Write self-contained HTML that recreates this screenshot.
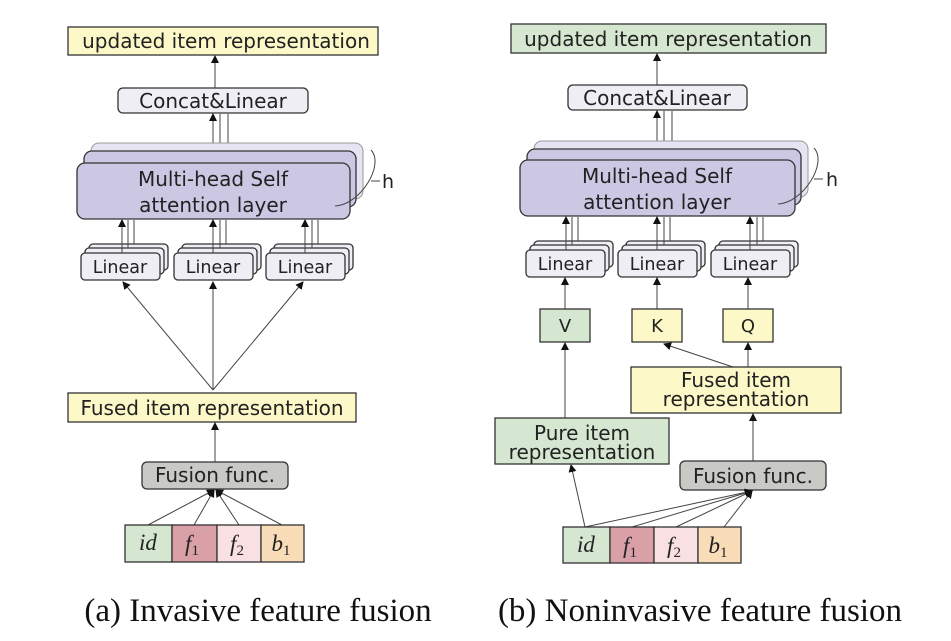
<!DOCTYPE html>
<html><head><meta charset="utf-8"><style>
html,body{margin:0;padding:0;background:#fff}
svg{display:block}
text{font-family:"DejaVu Sans","Liberation Sans",sans-serif;fill:#222}
.b{stroke:#333;stroke-width:1.3}
.l{stroke:#444;stroke-width:1;fill:none}
.cap{font-family:"Liberation Serif",serif;font-size:33px;fill:#111}
.it{font-family:"Liberation Serif",serif;font-style:italic;font-size:23px}
.s{font-size:15px;font-style:normal}
</style></head><body>
<svg width="951" height="641" viewBox="0 0 951 641">
<defs><marker id="a" markerWidth="8" markerHeight="8" refX="7" refY="4" orient="auto" markerUnits="userSpaceOnUse"><path d="M0,0 L8,4 L0,8 z" fill="#111"/></marker></defs>

<!-- LEFT -->
<rect x="68" y="27" width="310" height="28" fill="#fdf8c8" class="b"/>
<text x="226" y="48" font-size="20" text-anchor="middle">updated item representation</text>
<line x1="215" y1="88" x2="215" y2="56" class="l" marker-end="url(#a)"/>
<rect x="118" y="88" width="190" height="25" rx="5" fill="#eeeef4" class="b"/>
<text x="213" y="108" font-size="20" text-anchor="middle">Concat&amp;Linear</text>
<line x1="213" y1="162" x2="213" y2="114" class="l" marker-end="url(#a)"/>
<line x1="220" y1="150" x2="220" y2="114" class="l"/>
<line x1="228" y1="143" x2="228" y2="114" class="l"/>
<rect x="91" y="143" width="272" height="56" rx="8" fill="#e6e4f2" stroke="#999" stroke-width="1"/>
<rect x="84" y="151" width="272" height="56" rx="8" fill="#ccc8e4" class="b"/>
<rect x="77" y="163" width="273" height="56" rx="8" fill="#ccc8e4" class="b"/>
<text x="213" y="186" font-size="20" text-anchor="middle">Multi-head Self</text>
<text x="213" y="212" font-size="20" text-anchor="middle">attention layer</text>
<path d="M371,150 C385,165 360,205 335,206" class="l" stroke="#111" stroke-width="1.5"/>
<line x1="371" y1="181" x2="380" y2="181" class="l"/>
<text x="382" y="188" font-size="19">h</text>
<g>
<rect x="89" y="244" width="79" height="26" rx="4" fill="#eeeef4" class="b"/>
<rect x="85" y="248" width="79" height="26" rx="4" fill="#eeeef4" class="b"/>
<rect x="81" y="253" width="79" height="27" rx="4" fill="#eeeef4" class="b"/>
<text x="120" y="273" font-size="17.5" text-anchor="middle">Linear</text>
<line x1="122" y1="253" x2="122" y2="220" class="l" marker-end="url(#a)"/>
<line x1="128" y1="248" x2="128" y2="220" class="l"/><line x1="134" y1="244" x2="134" y2="220" class="l"/>
</g>
<g>
<rect x="182" y="244" width="79" height="26" rx="4" fill="#eeeef4" class="b"/>
<rect x="178" y="248" width="79" height="26" rx="4" fill="#eeeef4" class="b"/>
<rect x="174" y="253" width="79" height="27" rx="4" fill="#eeeef4" class="b"/>
<text x="213" y="273" font-size="17.5" text-anchor="middle">Linear</text>
<line x1="213" y1="253" x2="213" y2="220" class="l" marker-end="url(#a)"/>
<line x1="220" y1="248" x2="220" y2="220" class="l"/><line x1="226" y1="244" x2="226" y2="220" class="l"/>
</g>
<g>
<rect x="274" y="244" width="79" height="26" rx="4" fill="#eeeef4" class="b"/>
<rect x="270" y="248" width="79" height="26" rx="4" fill="#eeeef4" class="b"/>
<rect x="266" y="253" width="79" height="27" rx="4" fill="#eeeef4" class="b"/>
<text x="305" y="273" font-size="17.5" text-anchor="middle">Linear</text>
<line x1="305" y1="253" x2="305" y2="220" class="l" marker-end="url(#a)"/>
<line x1="312" y1="248" x2="312" y2="220" class="l"/><line x1="318" y1="244" x2="318" y2="220" class="l"/>
</g>
<line x1="213" y1="390" x2="123" y2="282" class="l" marker-end="url(#a)"/>
<line x1="213" y1="390" x2="213" y2="282" class="l" marker-end="url(#a)"/>
<line x1="213" y1="390" x2="303" y2="282" class="l" marker-end="url(#a)"/>
<rect x="68" y="393" width="288" height="29" fill="#fdf8c8" class="b"/>
<text x="212" y="415" font-size="20" text-anchor="middle">Fused item representation</text>
<line x1="215" y1="462" x2="215" y2="423" class="l" marker-end="url(#a)"/>
<rect x="142" y="462" width="146" height="27" rx="5" fill="#c9c9c5" class="b"/>
<text x="215" y="482" font-size="20" text-anchor="middle">Fusion func.</text>
<line x1="148" y1="525" x2="214" y2="490" class="l" marker-end="url(#a)"/>
<line x1="194" y1="525" x2="214" y2="490" class="l" marker-end="url(#a)"/>
<line x1="239" y1="525" x2="216" y2="490" class="l" marker-end="url(#a)"/>
<line x1="282" y1="525" x2="216" y2="490" class="l" marker-end="url(#a)"/>
<rect x="125" y="525" width="47" height="37" fill="#d5e7d0" class="b"/>
<rect x="172" y="525" width="45" height="37" fill="#d9a0a8" class="b"/>
<rect x="217" y="525" width="44" height="37" fill="#f9e0e2" class="b"/>
<rect x="261" y="525" width="43" height="37" fill="#f9dcb8" class="b"/>
<text x="148" y="550" class="it" text-anchor="middle">id</text>
<text x="192" y="551" class="it" text-anchor="middle">f<tspan class="s" dy="4">1</tspan></text>
<text x="237" y="551" class="it" text-anchor="middle">f<tspan class="s" dy="4">2</tspan></text>
<text x="281" y="551" class="it" text-anchor="middle">b<tspan class="s" dy="4">1</tspan></text>

<!-- RIGHT -->
<rect x="511" y="24" width="315" height="29" fill="#d5e7d0" class="b"/>
<text x="668" y="46" font-size="20" text-anchor="middle">updated item representation</text>
<line x1="657" y1="85" x2="657" y2="54" class="l" marker-end="url(#a)"/>
<rect x="568" y="85" width="179" height="25" rx="5" fill="#eeeef4" class="b"/>
<text x="657" y="105" font-size="20" text-anchor="middle">Concat&amp;Linear</text>
<line x1="657" y1="160" x2="657" y2="111" class="l" marker-end="url(#a)"/>
<line x1="664" y1="148" x2="664" y2="111" class="l"/>
<line x1="672" y1="141" x2="672" y2="111" class="l"/>
<rect x="534" y="141" width="274" height="56" rx="8" fill="#e6e4f2" stroke="#999" stroke-width="1"/>
<rect x="527" y="149" width="274" height="56" rx="8" fill="#ccc8e4" class="b"/>
<rect x="520" y="160" width="275" height="56" rx="8" fill="#ccc8e4" class="b"/>
<text x="657" y="183" font-size="20" text-anchor="middle">Multi-head Self</text>
<text x="657" y="209" font-size="20" text-anchor="middle">attention layer</text>
<path d="M814,148 C828,163 803,203 778,204" class="l" stroke="#111" stroke-width="1.5"/>
<line x1="814" y1="179" x2="823" y2="179" class="l"/>
<text x="826" y="186" font-size="19">h</text>
<g>
<rect x="534" y="241" width="79" height="26" rx="4" fill="#eeeef4" class="b"/>
<rect x="530" y="245" width="79" height="26" rx="4" fill="#eeeef4" class="b"/>
<rect x="526" y="250" width="79" height="27" rx="4" fill="#eeeef4" class="b"/>
<text x="565" y="270" font-size="17.5" text-anchor="middle">Linear</text>
<line x1="566" y1="250" x2="566" y2="217" class="l" marker-end="url(#a)"/>
<line x1="572" y1="245" x2="572" y2="217" class="l"/><line x1="578" y1="241" x2="578" y2="217" class="l"/>
</g>
<g>
<rect x="626" y="241" width="79" height="26" rx="4" fill="#eeeef4" class="b"/>
<rect x="622" y="245" width="79" height="26" rx="4" fill="#eeeef4" class="b"/>
<rect x="618" y="250" width="79" height="27" rx="4" fill="#eeeef4" class="b"/>
<text x="657" y="270" font-size="17.5" text-anchor="middle">Linear</text>
<line x1="657" y1="250" x2="657" y2="217" class="l" marker-end="url(#a)"/>
<line x1="664" y1="245" x2="664" y2="217" class="l"/><line x1="670" y1="241" x2="670" y2="217" class="l"/>
</g>
<g>
<rect x="719" y="241" width="79" height="26" rx="4" fill="#eeeef4" class="b"/>
<rect x="715" y="245" width="79" height="26" rx="4" fill="#eeeef4" class="b"/>
<rect x="711" y="250" width="79" height="27" rx="4" fill="#eeeef4" class="b"/>
<text x="750" y="270" font-size="17.5" text-anchor="middle">Linear</text>
<line x1="750" y1="250" x2="750" y2="217" class="l" marker-end="url(#a)"/>
<line x1="757" y1="245" x2="757" y2="217" class="l"/><line x1="763" y1="241" x2="763" y2="217" class="l"/>
</g>
<line x1="565" y1="309" x2="565" y2="278" class="l" marker-end="url(#a)"/>
<line x1="657" y1="309" x2="657" y2="278" class="l" marker-end="url(#a)"/>
<line x1="748" y1="309" x2="748" y2="278" class="l" marker-end="url(#a)"/>
<rect x="540" y="309" width="50" height="33" fill="#d5e7d0" class="b"/>
<text x="565" y="332" font-size="18" text-anchor="middle">V</text>
<rect x="632" y="309" width="50" height="33" fill="#fdf8c8" class="b"/>
<text x="657" y="332" font-size="18" text-anchor="middle">K</text>
<rect x="723" y="309" width="50" height="33" fill="#fdf8c8" class="b"/>
<text x="748" y="332" font-size="18" text-anchor="middle">Q</text>
<line x1="565" y1="418" x2="565" y2="343" class="l" marker-end="url(#a)"/>
<line x1="733" y1="367" x2="664" y2="344" class="l" marker-end="url(#a)"/>
<line x1="748" y1="367" x2="748" y2="343" class="l" marker-end="url(#a)"/>
<rect x="631" y="367" width="210" height="46" fill="#fdf8c8" class="b"/>
<text x="736" y="387" font-size="20" text-anchor="middle">Fused item</text>
<text x="736" y="406" font-size="20" text-anchor="middle">representation</text>
<rect x="495" y="418" width="174" height="46" fill="#d5e7d0" class="b"/>
<text x="582" y="440" font-size="20" text-anchor="middle">Pure item</text>
<text x="582" y="459" font-size="20" text-anchor="middle">representation</text>
<line x1="753" y1="461" x2="753" y2="414" class="l" marker-end="url(#a)"/>
<rect x="680" y="461" width="146" height="29" rx="5" fill="#c9c9c5" class="b"/>
<text x="753" y="483" font-size="20" text-anchor="middle">Fusion func.</text>
<line x1="585" y1="527" x2="571" y2="465" class="l" marker-end="url(#a)"/>
<line x1="585" y1="527" x2="752" y2="491" class="l" marker-end="url(#a)"/>
<line x1="632" y1="527" x2="752" y2="491" class="l" marker-end="url(#a)"/>
<line x1="676" y1="527" x2="752" y2="491" class="l" marker-end="url(#a)"/>
<line x1="724" y1="527" x2="752" y2="491" class="l" marker-end="url(#a)"/>
<rect x="563" y="527" width="47" height="36" fill="#d5e7d0" class="b"/>
<rect x="610" y="527" width="44" height="36" fill="#d9a0a8" class="b"/>
<rect x="654" y="527" width="44" height="36" fill="#f9e0e2" class="b"/>
<rect x="698" y="527" width="43" height="36" fill="#f9dcb8" class="b"/>
<text x="586" y="552" class="it" text-anchor="middle">id</text>
<text x="630" y="553" class="it" text-anchor="middle">f<tspan class="s" dy="4">1</tspan></text>
<text x="674" y="553" class="it" text-anchor="middle">f<tspan class="s" dy="4">2</tspan></text>
<text x="718" y="553" class="it" text-anchor="middle">b<tspan class="s" dy="4">1</tspan></text>

<text x="258" y="621" class="cap" text-anchor="middle">(a) Invasive feature fusion</text>
<text x="700" y="621" class="cap" text-anchor="middle">(b) Noninvasive feature fusion</text>
</svg>
</body></html>
